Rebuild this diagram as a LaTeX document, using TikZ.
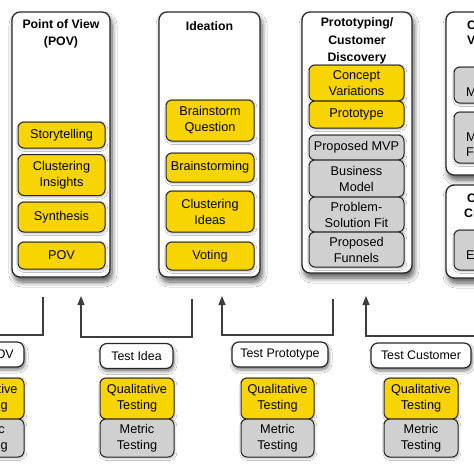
\documentclass[tikz,border=0pt]{standalone}
\usepackage{fontspec}
\setmainfont{Liberation Sans}
\usetikzlibrary{arrows.meta,shadows.blur}
\definecolor{yel}{RGB}{248,212,0}
\definecolor{gry}{RGB}{208,208,208}
\definecolor{edge}{RGB}{40,40,40}
\tikzset{
  col/.style={draw=edge, line width=1.3pt, fill=white, rounded corners=8pt,
    blur shadow={shadow xshift=2pt, shadow yshift=-5pt, shadow blur radius=5pt, shadow blur steps=8, shadow opacity=65}},
  inbox/.style={draw=edge, line width=1pt, rounded corners=6pt, align=center, inner sep=1pt,
    font=\fontsize{12.7}{16}\selectfont,
    blur shadow={shadow xshift=0.8pt, shadow yshift=-1.5pt, shadow blur radius=2pt, shadow blur steps=3, shadow opacity=30}},
  yb/.style={inbox, fill=yel},
  gb/.style={inbox, fill=gry},
  testbox/.style={draw=edge, line width=1.2pt, fill=white, rounded corners=7pt,
    font=\fontsize{12.4}{15}\selectfont,
    blur shadow={shadow xshift=1pt, shadow yshift=-3pt, shadow blur radius=3pt, shadow blur steps=5, shadow opacity=50}},
  ttl/.style={font=\fontsize{12.3}{17.5}\bfseries\selectfont, align=center, inner sep=0pt},
  cut/.style={anchor=west, inner sep=0pt, font=\fontsize{12.7}{16}\selectfont},
  cutb/.style={anchor=west, inner sep=0pt, font=\fontsize{12.3}{15}\bfseries\selectfont},
  flow/.style={draw=edge!90, line width=1.3pt},
  flowa/.style={flow, -{Triangle[length=9pt,width=7pt]}},
}
\begin{document}
\begin{tikzpicture}[x=1pt,y=-1pt]
\useasboundingbox[fill=white] (0,0) rectangle (474,474);
\begin{scope}
\clip (0,0) rectangle (474,474);
% Column 1
\node[col, minimum width=98, minimum height=265] (c1) at (61,144.5) {};
\node[ttl] (t1) at (61,34) {Point of View\\(POV)};
\node[yb, minimum width=87, minimum height=26] (s1) at (61.5,135) {Storytelling};
\node[yb, minimum width=87, minimum height=41] (s2) at (61.5,175) {Clustering\\Insights};
\node[yb, minimum width=87, minimum height=30] (s3) at (61.5,217) {Synthesis};
\node[yb, minimum width=87, minimum height=27] (s4) at (61.5,255.5) {POV};
% Column 2
\node[col, minimum width=101, minimum height=265] (c2) at (209.5,144.5) {};
\node[ttl] (t2) at (209.5,26) {Ideation};
\node[yb, minimum width=88, minimum height=41] (i1) at (210,120.5) {Brainstorm\\Question};
\node[yb, minimum width=88, minimum height=29] (i2) at (210,167.5) {Brainstorming};
\node[yb, minimum width=88, minimum height=41] (i3) at (210,211.5) {Clustering\\Ideas};
\node[yb, minimum width=88, minimum height=28] (i4) at (210,256) {Voting};
% Column 3
\node[col, minimum width=110, minimum height=261] (c3) at (357,142.5) {};
\node[ttl] (t3) at (357,41) {Prototyping/\\Customer\\Discovery};
\node[yb, minimum width=95, minimum height=36] (p1) at (356.5,83) {Concept\\Variations};
\node[yb, minimum width=95, minimum height=27] (p2) at (356.5,114.5) {Prototype};
\node[gb, minimum width=95, minimum height=25] (p3) at (356.5,147.5) {Proposed MVP};
\node[gb, minimum width=95, minimum height=37] (p4) at (356.5,178.5) {Business\\Model};
\node[gb, minimum width=95, minimum height=35] (p5) at (356.5,214.5) {Problem-\\Solution Fit};
\node[gb, minimum width=95, minimum height=35] (p6) at (356.5,249.5) {Proposed\\Funnels};
% Column 4 (cut off at the right edge)
\node[col, minimum width=100, minimum height=163] (c4) at (496,93.5) {};
\node[cutb] (t4a) at (467,25) {Customer};
\node[cutb] (t4b) at (467,40) {Validation};
\node[gb, minimum width=84, minimum height=36] (v1) at (496,85) {};
\node[cut] (v1t) at (466,92) {MVP};
\node[gb, minimum width=84, minimum height=51] (v2) at (496,137.5) {};
\node[cut] (v2a) at (466,137) {Metrics};
\node[cut] (v2b) at (466,152) {Funnels};
\node[col, minimum width=100, minimum height=93] (c5) at (496,231.5) {};
\node[cutb] (t5a) at (467,198) {Customer};
\node[cutb] (t5b) at (464,213) {Creation};
\node[gb, minimum width=84, minimum height=40] (e1) at (496,250) {};
\node[cut] (e1t) at (466,255) {Execution};
% Test boxes
\node[testbox, minimum width=73, minimum height=25] (tb0) at (-12.5,354.5) {Test POV};
\node[testbox, minimum width=73, minimum height=25] (tb1) at (136.5,356) {Test Idea};
\node[testbox, minimum width=96, minimum height=25] (tb2) at (280,354.5) {Test Prototype};
\node[testbox, minimum width=100, minimum height=25] (tb3) at (421,355.5) {Test Customer};
% Testing stacks
\node[yb, minimum width=73, minimum height=41] (q0) at (-12.5,398.5) {Qualitative\\Testing};
\node[gb, minimum width=73, minimum height=38] (m0) at (-12.5,438) {Metric\\Testing};
\node[yb, minimum width=74, minimum height=41] (q1) at (137,398.5) {Qualitative\\Testing};
\node[gb, minimum width=74, minimum height=38] (m1) at (137,438) {Metric\\Testing};
\node[yb, minimum width=73, minimum height=41] (q2) at (277.5,398.5) {Qualitative\\Testing};
\node[gb, minimum width=73, minimum height=38] (m2) at (277.5,438) {Metric\\Testing};
\node[yb, minimum width=74, minimum height=41] (q3) at (421,398.5) {Qualitative\\Testing};
\node[gb, minimum width=74, minimum height=38] (m3) at (421,438) {Metric\\Testing};
% Connectors
\coordinate (a0) at (43,297);
\coordinate (a0e) at (-20,335);
\coordinate (b1) at (192,299);
\coordinate (h1) at (81,296);
\coordinate (b2) at (333,299);
\coordinate (h2) at (222,296);
\coordinate (b3e) at (490,336);
\coordinate (h3) at (366,296);
\draw[flow] (a0) |- (a0e);
\draw[flowa] (b1) -- (b1 |- 0,337) -| (h1);
\draw[flowa] (b2) -- (b2 |- 0,335) -| (h2);
\draw[flowa] (b3e) -| (h3);
\end{scope}
\end{tikzpicture}
\end{document}
